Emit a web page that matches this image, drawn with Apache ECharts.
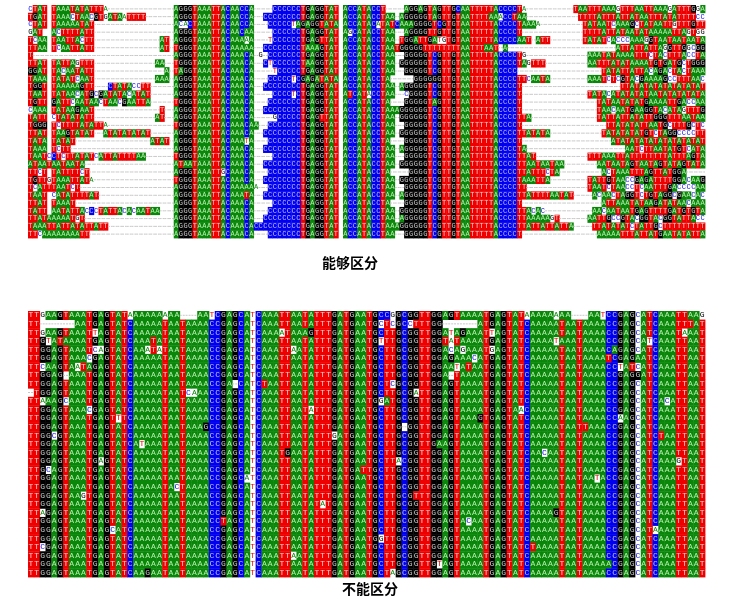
<!DOCTYPE html>
<html><head><meta charset="utf-8">
<script src="https://cdn.jsdelivr.net/npm/echarts@6/dist/echarts.min.js"></script>
<style>html,body{margin:0;padding:0;background:#fff}#c{width:735px;height:603px}</style>
</head><body><div id="c"></div>
<script>
// Upper-case = shaded cell, lower-case = unshaded letter, '-' = gap, ' ' = blank
const topLeft = [
"cTAT TAAATATATTTa","TGAT TAAAcTAAcGTgATAaTTTT","cTAT TAAAAATAT","gAT  AcTTTTATT",
"TcAA TAATTAcTT--------------AT","TTAA TcAATTATT--------------AT","T","TTAT TATTAgTTT-------------AA",
"GGAT TAcAATATT---------------A","TAAA TATATcAAT-------------AAA","TGGT TAAAAAGTT---CTATAccTT","TAAT TATAAcATGcGATATAcATAT",
"TGTT GATTcAATAAcTAAcGAATTA","cAAA TATAAGAAT--------------T","TATT cTATATATT-------------AT","TGGG TcTTTTATATTa",
"TTAT TAAGTATAT--ATATATATAT","TATA TATAT----------------ATAT","TAAA TcTT","TAATcCTcTTATATcATTATTTTAA",
"ATAATAATAATA","TTcT TATTTTcT","TGTTgTAAATTATa","TcATTTAATcT",
"TAAT cATATTTTAT","TTAT TAAAT","TATT AATATTAcCcTATTAcAcAATAA","TTATAAAAATgT",
"TAAATTATTATATTATT","TTcAAAAAAAATT"];
const topMid = [
"AGGGTAAATTACAACCA|--|--CCCCCC|TGAGGTAT| |ACCATACCT-|--|-AGGAG|TAGTTG|CAATTTTTA|CCCC|T",
"AGGGTAAATTACAACCA|--|CCCCCCCC|TGAGGTAT| |ACCATACCTA|A-|AGGGGG|TAGTTG|TAATTTTAA|aCCT|A",
"AcaCTAAATTACAACCA|--|-CCCCCtA|GAGGTATA| |ACCATACaTA|TC|AAAGGG|GTCGTG|TAATTTTTA|CCCC|T",
"AGGGTAAATTACAACAA|--|--CCCCCC|TGAGGTAT| |AgCATACCTA|A-|-AGGGG|TTGTTG|TAATTTTTA|CCCC|T",
"AGGGTAAATTACAAAaA|--|-tCCCCCC|TGAGTTAT| |ACCATACCTA|A-|TGGATT|GAtgTG|TAATTTTTA|CCCC|A",
"TGGGTAAATTACAAAAA|--|CCCCCCCC|TAAAGTAT| |ACCATACCTA|AT|GGGGGT|TTTTTT|TAATTTAAT|-A--|-",
"AGGGTAAATTACAAACA|-g|-CCCCCCC|TGAGGTAT| |ACCATACCTA|A-|-GGGGG|TCGTTG|TAATTTTTA|CCCC|T",
"TGGGTAAATTACAAACA|--|CtCCCCCC|TAAGGTAT| |ACCATACCTA|A-|GGGGGG|TCGTTG|TAATTTTTA|CCCC|T",
"TAGGTAAATTACAAACA|--|--tCCCCC|TGAGGTAT| |ACCATACCTA|A-|-GGGGG|TCGTTG|TAATTTTTA|CCCC|-",
"AGGGTAAATTACAAACA|--|-CCCCCtC|GAGATATA| |ACCATACCTA|--|---GGG|GGGTTG|TAATTTTTA|CCCC|T",
"AGGGTAAATTACAAACA|--|CCCCCCCC|TGAGGTAT| |ACCATACCTA|A-|AGGGGG|TCGTTG|TAATTTTTA|CCCC|T",
"AGGGTAAATTACAAACA|--|--CCCCtC|TGAGGTAT| |ATCATaCCTA|A-|-cGGGG|TCGTTG|TAATTTTTA|CCCC|T",
"TGGGTAAATTACAAACA|--|-CCCCCCC|TGAGGTAT| |ACCATACCTA|--|-GGGGG|TAGTTG|TAATTTTTA|CCCC|T",
"AGGGTAAATTACAAACA|--|CCCCCCCC|TGAGGTAT| |ACCATACCTA|AA|GGGGGG|TCGTTG|TAATTTTTA|CCCC|T",
"AGGGTAAATTACAAACA|--|--gCCCCC|TGAGTTAT| |ACCATACCTA|A-|GGGGGG|TCGTTG|TAATTTTTA|CCCC|T",
"TGGGTAAATTACAAACA|A-|-CCCCCCC|TGAGGTAT| |ACCATACCTA|A-|-GGGGG|TCGTTG|TAATTTTTA|CCCC|T",
"AGGGTAAATTACAAACA|--|CCCCCCCC|TGAGGTAT| |ACCATACCTA|A-|GGGGGG|TCGTTG|TAATTTTTA|CCCC|T",
"AGGGTAAATTACAAAtA|--|-CCCCCCC|TGAGGTAT| |ACCATACCTA|--|-GGGGG|TCGTTG|TAATTTTTA|CCCC|T",
"AGGGTAAATTACAAACA|--|CCCCCCCC|TGAGGTAT| |ACCATACCTA|A-|AGGGGG|TCGTTG|TAATTTTTA|CCCC|T",
"TGGGTAAATTACAAACA|--|--CCCCCC|TGAGGTAT| |ACCATACCTA|A-|-GGGGG|TCGTTG|TAATTTTTA|CCCC|T",
"ATAATAAATTACAAACA|--|CCCCCCCC|TGAGGTAT| |ACCATACCTA|A-|GGGGGG|TCGTTG|TAATTTTTA|CCCC|T",
"AGGGTAAATTgCAAACA|--|-CCCCCCC|TGAGGTAT| |ACCATACCTA|--|--GGGG|TCGTTG|TAATTTTTA|CCCC|T",
"TGGGTAAATTACAAACA|--|CCCCCCCC|TGAGGTAT| |ACCATACCTA|A-|GGGGGG|TCGTTG|TAATTTTTA|CCCC|T",
"AGGGTAAATTACAAAAA|a-|-CCCCCCC|TGAGGTAT| |ACCATACCTA|A-|-GGGGG|TCGTTG|TAATTTTTA|CCCC|T",
"AGGGTAAATTACAAATA|--|CCCCCCCC|TGAGGTAT| |ACCATACCTA|A-|AGGGGG|TCGTTG|TAATTTTTA|CCCC|T",
"AGGGTAAATTACAAACA|--|--CCCCCC|TGAGGTAT| |ACCATACCTA|--|-GGGGG|TCGTTG|TAATTTTTA|CCCC|T",
"AGGGTAAATTACAAACA|--|-CCCCCCC|TGAGGTAT| |ACCATACCTA|A-|GGGGGG|TCGTTG|TAATTTTTA|CCCC|T",
"AGGGTAAATTACAAACA|--|CCCCCCCC|TGAGGTAT| |ACCATACCTA|A-|AGGGGG|TCGTTG|TAATTTTTA|CCCC|T",
"AGGGTAAATTACAAACA|CC|CCCCCCCC|TGAGGTAT| |ACCATACCTA|AA|GGGGGG|TCGTTG|TAATTTTTA|CCCC|T",
"AGGGTAAATTACAAACA|--|-CCCCCCC|TGAGGTAT| |ACCATACCTA|A-|-GGGGG|TCGTTG|TAATTTTTA|CCCC|T"];
const topR1 = ["a","A","AAAa","","AT-ATT","","g","AgTTT","","TcAATA","","","","","TA",
"","TATATA","","A","TAT","TAATAATAA","TATTTcTA","AAATTA","T","TATTTTAATATT","","TAcAc","TAAAAAgT","TATTATTATTA",""];
const topR2 = [
"TAATTTAAAgTTTAATTAAAgATTTGgA","TTTTATTTATTATAATTTATATTTTcc","TATAATcAAAGcTATAATTgTTTGTT","TTTTATTATAATATAAAAATTAgTgg",
"TATATcAcccAAAgGTAATAATAATA","ATTATTATTAgGTTGgcGG","AAATATAAAATTTcTAcTTTAccTA","AATTTATATAAAATGTGATGcTGGG",
"TATATTATTAcAGAcTAcTAAA","AAATcTcGTAcGAAAAGccTTTAAc","TTATATATATATATATAT","TATAcATATATATAATATATATATA",
"TATAATATATGAAAATTGAccAA","TAAcAATGAAGGTAcATAgTTTG","TATTATTATATTGGGTTTAATAA","TTATATATTAATGcTTTGcTc",
"TATATATATGTcTAGGccccTT","ATATATATATATATATATAT","AATcTTAATATGTcATA","TTTAAATTATTTTTTTTATTTAGTA",
"AATAATAGTAATAGTATAGTATA","AcTAAATTTAGTTATGGA----","TATTGTAAccGAGATTTTGGAcAAG","TAATcTAAccTcAATTTGAccccAA",
"AcAAcTAGGTcTGTAGGcGAAcAc","ATTAAATATAAGATATAAcAAA","AAcAATAATGAGTTTTGATGTGTA","AATTGccGTAcGGTAcGGTATTAcc",
"TTATATATcTATTGcTTTTTTTTT","AAAAATTTATTATGAATATATTA"];

const botConsensus = "TTGGAGTAAATGAGTATCAAAAATAATAAAACCGAGCAtCAAATTAATATTTGATGAATGCTTGCGGTTGGAGTAAAATGAGTATCAAAAATAATAAAACCGAGcATCAAATTAAT";
// [row, col, replacement]
const botEdits = [
[0,2,"gA"],[0,17,"a"],[0,23,"aAA---AAt"],[0,61,"Cg"],[0,85,"aAAAAaAA---AAt"],[0,115,"gT"],
[1,2,"------"],[1,60,"cTc"],[1,65,"cT"],[1,71,"------"],[1,112,"TT"],
[2,2,"gAAG"],[2,11,"tAG"],[2,43,"a"],[2,47,"AG"],[2,72,"tAG"],[2,79,"tAG"],[2,112,"a"],
[3,2,"GtATAA"],[3,21,"T"],[3,60,"t"],[3,71,"TaTA"],[3,88,"AAtA"],[3,106,"t"],[3,116,"a"],
[4,11,"caG"],[4,20,"aTa"],[4,45,"a"],[4,72,"cAg"],[4,79,"g"],[4,100,"A"],
[5,10,"c"],[5,50,"T"],[5,73,"AAAc"],[5,99,"T"],[5,104,"A"],
[6,2,"cAA"],[6,8,"aTA"],[6,71,"AAtAT"],[6,101,"tAT"],
[7,6,"-"],[7,72,"-"],[7,104,"G"],
[8,35,"-"],[8,40,"T"],[8,62,"c"],
[9,0,"-"],[9,27,"caA"],[9,90,"A"],[9,66,"a"],
[10,2,"aA"],[10,6,"c"],[10,60,"gA"],[10,109,"c"],
[11,10,"c"],[11,48,"a"],[11,84,"a"],
[12,15,"t"],[12,77,"G"],[12,101,"a"],
[13,30,"G"],[13,64,"-"],[13,95,"T"],
[14,4,"c"],[14,52,"g"],[14,108,"T"],
[15,19,"t"],[15,70,"A"],
[16,44,"G"],[16,88,"c"],
[17,12,"a"],[17,63,"a"],[17,111,"g"],
[18,3,"c"],[18,57,"T"],
[19,37,"a"],[19,97,"t"],
[20,25,"c"],[20,80,"A"],
[21,9,"g"],[21,66,"T"],[21,104,"c"],
[22,50,"a"],
[23,2,"a"],[23,90,"G"],
[24,33,"T"],[24,75,"c"],
[25,14,"c"],[25,107,"a"],
[26,60,"g"],
[27,2,"c"],[27,86,"T"],
[28,45,"a"],
[29,70,"t"],[29,99,"A"],
[30,20,"G"],[30,62,"a"]];
const botRowCount = 31;
const label1 = "能够区分", label2 = "不能区分";

function fit(s, n, start){ s = s || ""; if(start){ s = s.padStart(n,'-'); return s.slice(-n);} s = s.padEnd(n,'-'); return s.slice(0,n); }
const topRows = topLeft.map((l,i)=> fit(l,31) + fit(topMid[i].replace(/\|/g,''),74) + fit(topR1[i],11) + fit(topR2[i],28,true));
const botRows = [];
for(let r=0;r<botRowCount;r++){
  let a = botConsensus.split('');
  botEdits.filter(e=>e[0]===r).forEach(e=>{ for(let k=0;k<e[2].length;k++) if(e[1]+k<a.length) a[e[1]+k]=e[2][k]; });
  botRows.push(a.join(''));
}
const CH = "ACGTacgt-";
function toData(rows){ const d=[]; rows.forEach((s,r)=>{ for(let c=0;c<s.length;c++){ const i=CH.indexOf(s[c]); if(i>=0) d.push([c,r,i]); } }); return d; }
const BG = {A:'#0a870a',C:'#0000ee',G:'#000000',T:'#ee0000'};
const FG = {A:'#b8f0b0',C:'#c8c8ff',G:'#c8c8c8',T:'#ffd0d0'};
function render(fs){ return function(params, api){
  const ch = CH[api.value(2)];
  const p = api.coord([api.value(0), api.value(1)]);
  const sz = api.size([1,1]);
  const x = p[0]-sz[0]/2, y = p[1]-sz[1]/2;
  if(ch==='-') return {type:'line', shape:{x1:x,y1:p[1],x2:x+sz[0],y2:p[1]}, style:{stroke:'#c8c8c8',lineWidth:1,lineDash:[2,1]}};
  const up = ch.toUpperCase(), shaded = ch===up;
  const ch2 = [];
  if(shaded) ch2.push({type:'rect', shape:{x:x,y:y,width:sz[0]+0.4,height:sz[1]+0.4}, style:{fill:BG[up]}});
  ch2.push({type:'text', style:{text:up, x:p[0], y:p[1], align:'center', verticalAlign:'middle', font:fs+'px "Liberation Mono"', fill: shaded?FG[up]:BG[up]}});
  return {type:'group', children:ch2};
};}
const n1 = topRows[0].length, n2 = botRows[0].length;
const rng = n=>Array.from({length:n},(_,i)=>String(i));
const chart = echarts.init(document.getElementById('c'));
chart.setOption({
  animation:false,
  grid:[{left:28,top:5,width:677,height:233},{left:28,top:311,width:677,height:266}],
  xAxis:[{type:'category',data:rng(n1),gridIndex:0,show:false},{type:'category',data:rng(n2),gridIndex:1,show:false}],
  yAxis:[{type:'category',data:rng(topRows.length),gridIndex:0,inverse:true,show:false},{type:'category',data:rng(botRows.length),gridIndex:1,inverse:true,show:false}],
  graphic:[
    {type:'text',left:322,top:256,style:{text:label1,font:'bold 14px "Noto Sans CJK SC"',fill:'#000'}},
    {type:'text',left:342,top:582,style:{text:label2,font:'bold 14px "Noto Sans CJK SC"',fill:'#000'}}],
  series:[
    {type:'custom',xAxisIndex:0,yAxisIndex:0,renderItem:render(7),data:toData(topRows),encode:{x:0,y:1},progressive:0,dimensions:['x','y','v']},
    {type:'custom',xAxisIndex:1,yAxisIndex:1,renderItem:render(8),data:toData(botRows),encode:{x:0,y:1},progressive:0,dimensions:['x','y','v']}]
});
</script></body></html>
